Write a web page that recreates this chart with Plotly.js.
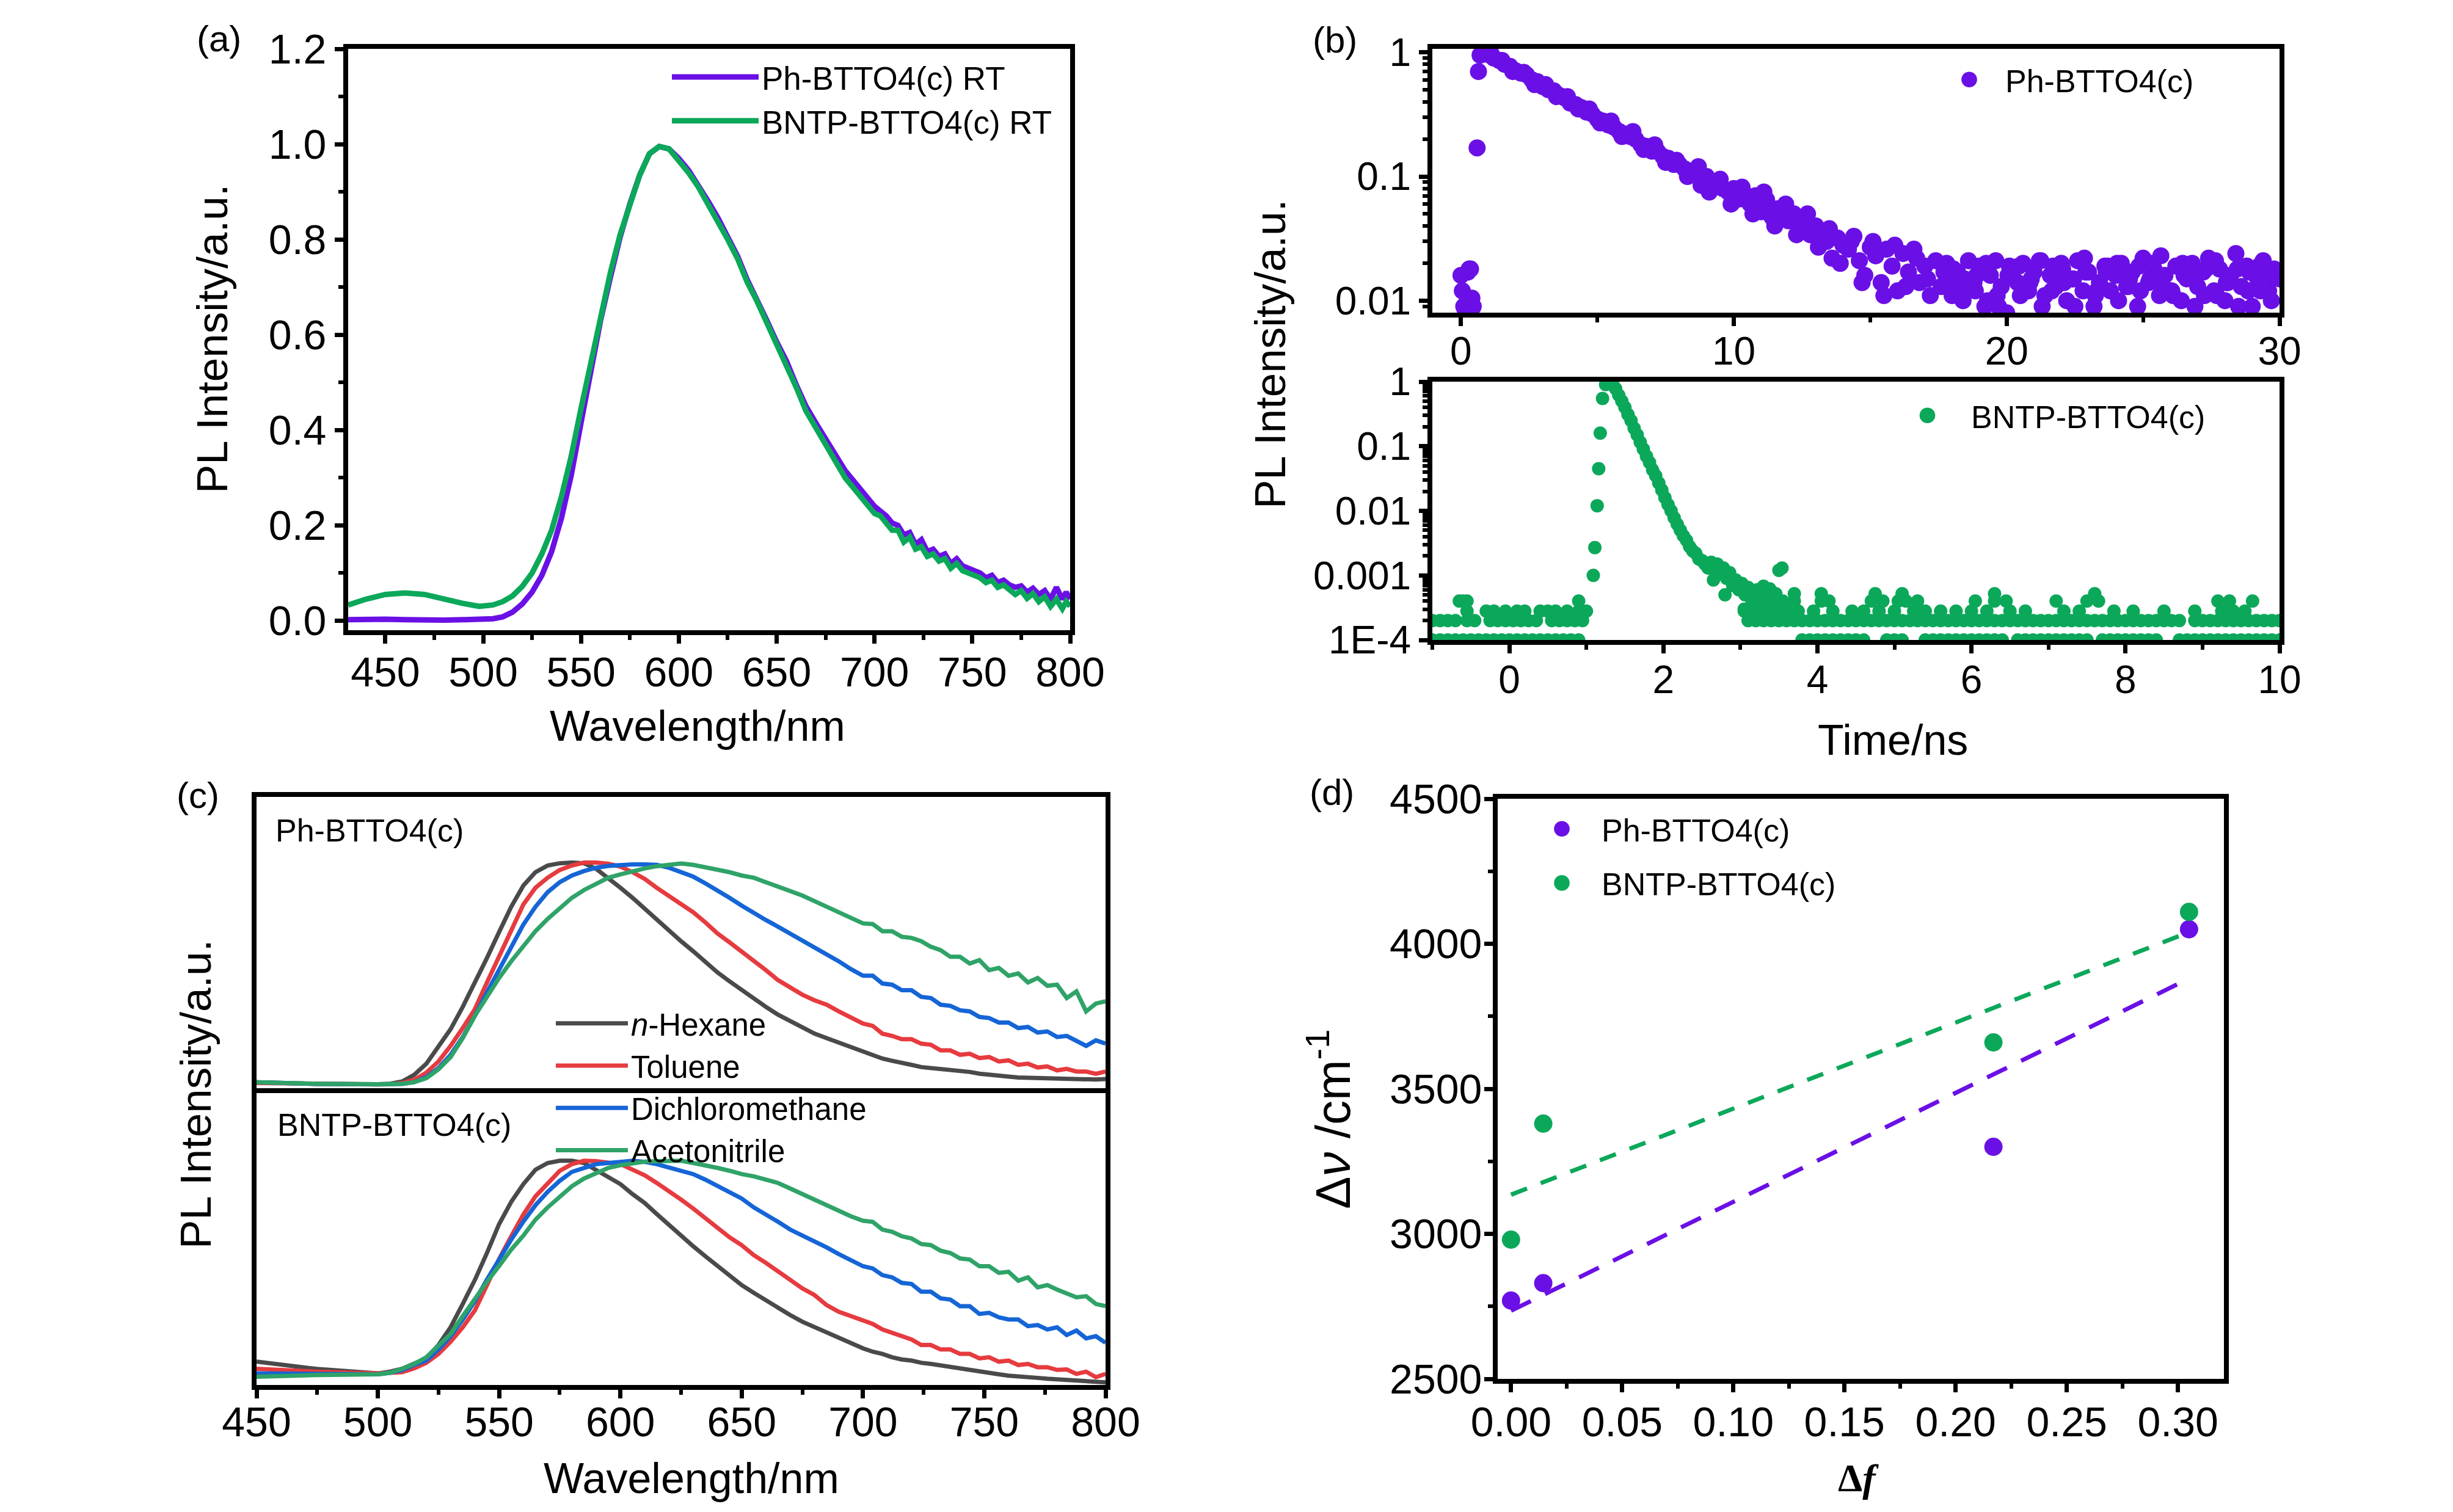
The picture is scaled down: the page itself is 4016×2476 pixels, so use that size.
<!DOCTYPE html>
<html><head><meta charset="utf-8">
<script src="https://cdn.plot.ly/plotly-3.0.1.min.js"></script>
<style>html,body{margin:0;padding:0;background:#fff}</style></head>
<body><div id="chart" style="width:4016px;height:2476px"></div>
<script>
const PURPLE='#6A10E6',GREEN='#0CA85A',HEX='#4A4A4A',TOL='#E63B3F',DCM='#1565D6',ACN='#2FA368';
const waveA=[431,440,450,460,470,480,490,498,505,510,515,520,525,530,535,540,545,550,555,560,565,570,575,580,585,590,595,600,605,610,615,620,625,630,635,640,645,650,655,660,665,670,675,680,685,690,695,700,703,706,709,712,715,718,721,724,727,730,733,736,739,742,745,748,751,754,757,760,763,766,769,772,775,778,781,784,787,790,793,796,798,800];
const phRT=[.002,.003,.003,.002,.001,.001,.002,.002,.004,.008,.018,.035,.06,.095,.145,.215,.305,.415,.525,.63,.72,.805,.875,.935,.98,.995,.99,.97,.945,.915,.88,.845,.805,.765,.715,.675,.63,.585,.545,.495,.45,.415,.38,.345,.315,.29,.265,.24,.23,.22,.205,.20,.18,.185,.16,.17,.145,.15,.135,.14,.12,.13,.115,.11,.105,.10,.09,.095,.08,.085,.075,.07,.073,.06,.068,.055,.063,.045,.07,.045,.06,.045];
const bntpRT=[.033,.045,.055,.058,.055,.045,.036,.03,.033,.04,.052,.072,.10,.14,.19,.26,.345,.445,.54,.64,.73,.81,.875,.935,.98,.995,.99,.965,.94,.91,.875,.84,.80,.76,.71,.67,.625,.58,.54,.49,.44,.405,.365,.33,.30,.275,.25,.225,.22,.205,.19,.19,.165,.175,.15,.155,.135,.14,.125,.13,.11,.12,.105,.10,.095,.09,.08,.085,.07,.075,.065,.055,.063,.047,.057,.04,.05,.03,.045,.025,.04,.03];
const decayPhT=[0,0.05,0.1,0.15,0.2,0.25,0.3,0.35,0.4,0.45,0.59,0.64,0.7,0.8,0.9,1.0,1.2,1.4,1.6,1.8,2.0,2.2,2.4,2.6,2.8,3.0,3.2,3.4,3.6,3.8,4.0,4.2,4.4,4.6,4.8,5.0,5.2,5.4,5.6,5.8,6.0,6.2,6.4,6.6,6.8,7.0,7.2,7.4,7.6,7.8,8.0,8.2,8.4,8.6,8.8,9.0,9.2,9.4,9.6,9.8,10.0,10.2,10.4,10.6,10.8,11.0,11.2,11.4,11.6,11.8,12.0,12.2,12.4,12.6,12.8,13.0,13.2,13.4,13.6,13.8,14.0,14.2,14.4,14.6,14.8,15.0,15.2,15.4,15.6,15.8,16.0,16.2,16.4,16.6,16.8,17.0,17.2,17.4];
const decayPhY=[.016,.012,.009,.0085,.0095,.017,.018,.018,.0105,.009,.17,.70,.95,1.0,1.02,.96,.90,.86,.80,.77,.71,.68,.66,.60,.58,.53,.50,.49,.45,.43,.39,.38,.36,.33,.32,.29,.28,.26,.25,.23,.22,.21,.20,.18,.175,.16,.16,.145,.14,.125,.125,.115,.105,.11,.085,.10,.085,.09,.08,.075,.08,.066,.072,.06,.07,.052,.065,.047,.055,.05,.044,.05,.04,.043,.034,.04,.034,.03,.022,.032,.028,.026,.033,.021,.016,.027,.023,.014,.026,.019,.012,.024,.017,.026,.014,.019,.011,.021];
const bandPhT=[1.1,1.5,1.9,2.3,2.7,3.1,3.5,3.9,4.3,4.7,5.1,5.5,5.9,6.3,6.7,7.1,7.5,7.9,8.3,8.7,9.1,9.5,9.9,10.3,10.7,11.1,11.5,11.9,12.3,12.7,13.1,13.5,13.9,14.3,14.7,15.1,15.5,15.9,16.3,16.7,17.1];
const bandPhY=[.98,.86,.70,.69,.55,.55,.44,.44,.35,.35,.27,.28,.21,.23,.165,.18,.13,.135,.10,.12,.075,.095,.06,.082,.05,.075,.04,.06,.034,.05,.027,.038,.02,.03,.014,.03,.011,.028,.013,.022,.015];
const tailPhT=[17.6,17.8,18.0,18.2,18.4,18.6,18.8,19.0,19.2,19.4,19.6,19.8,20.0,20.2,20.4,20.6,20.8,21.0,21.2,21.4,21.6,21.8,22.0,22.2,22.4,22.6,22.8,23.0,23.2,23.4,23.6,23.8,24.0,24.2,24.4,24.6,24.8,25.0,25.2,25.4,25.6,25.8,26.0,26.2,26.4,26.6,26.8,27.0,27.2,27.4,27.6,27.8,28.0,28.2,28.4,28.6,28.8,29.0,29.2,29.4,29.6,29.8,30.0,17.7,18.1,18.5,18.9,19.3,19.7,20.1,20.5,20.9,21.3,21.7,22.1,22.5,22.9,23.3,23.7,24.1,24.5,24.9,25.3,25.7,26.1,26.5,26.9,27.3,27.7,28.1,28.5,28.9,29.3,29.7,18.05,18.45,18.85,19.25,19.65,20.05,20.45,20.85,21.25,21.65,22.05,22.45,22.85,23.25,23.65,24.05,24.45,24.85,25.25,25.65,26.05,26.45,26.85,27.25,27.65,28.05,28.45,28.85,29.25,29.65];
const tailPhY=[.013,.020,.011,.017,.010,.021,.014,.019,.009,.016,.021,.013,.008,.018,.014,.020,.012,.017,.021,.011,.016,.013,.020,.010,.015,.021,.012,.017,.009,.014,.019,.012,.016,.020,.013,.017,.009,.022,.014,.018,.011,.016,.012,.019,.010,.015,.020,.013,.017,.022,.012,.018,.010,.016,.024,.013,.019,.009,.015,.021,.012,.018,.015,.017,.014,.012,.016,.010,.009,.019,.011,.015,.009,.019,.014,.009,.017,.012,.019,.010,.015,.012,.020,.013,.011,.016,.009,.018,.011,.014,.009,.017,.012,.010,.018,.015,.012,.02,.011,.016,.019,.014,.021,.012,.018,.015,.022,.011,.017,.02,.013,.019,.015,.023,.012,.02,.016,.011,.021,.014,.018,.012,.019,.016];
const decayBnT=[1.09,1.11,1.14,1.16,1.18,1.21,1.25,1.3,1.34,1.38,1.42,1.46,1.5,1.54,1.58,1.62,1.66,1.7,1.74,1.78,1.82,1.86,1.9,1.94,1.98,2.02,2.06,2.1,2.14,2.18,2.22,2.26,2.3,2.34,2.38,2.42,2.46,2.5,2.54,2.58,2.62,2.66,2.7,2.74,2.78,2.82,2.86,2.9,2.94,2.98,3.02,3.06,3.1,3.14,3.18,3.22,3.26,3.3,3.34,3.38,3.42,3.46,3.5,3.54,2.65,2.8,3.05,3.2,3.28,3.35];
const decayBnY=[.001,.0027,.012,.045,.16,.55,.9,1,.95,.78,.62,.5,.4,.31,.25,.19,.15,.115,.09,.07,.056,.043,.035,.027,.021,.016,.0125,.01,.0078,.0062,.005,.0041,.0035,.0028,.0024,.0022,.0018,.0017,.0015,.0013,.0016,.0012,.0015,.0011,.0013,.0009,.0011,.0007,.00085,.0006,.00075,.0005,.00065,.00048,.00058,.0006,.00045,.00068,.0005,.00062,.00042,.00052,.0012,.0013,.00085,.0005,.0003,.0003,.00022,.00035];
const level1X=[-1,-.9,-.8,-.7,-.6,-.5,-.4,-.3,-.2,-.1,0,.1,.2,.3,.4,.5,.6,.7,.8,.9,3.8,3.9,4,4.1,4.2,4.3,4.4,4.5,4.6,4.9,5,5.1,5.4,5.5,5.6,5.7,5.8,5.9,6,6.1,6.2,6.3,6.4,6.6,6.7,6.8,6.9,7,7.1,7.2,7.3,7.4,7.5,7.7,7.8,7.9,8,8.1,8.2,8.3,8.4,8.7,8.8,8.9,9,9.1,9.2,9.3,9.4,9.5,9.6,9.7,9.8,9.9,10];
const level2X=[-1,-.9,-.8,-.7,-.55,-.45,-.25,-.15,-.05,.05,.15,.25,.35,.55,.65,.75,.85,.95,3.1,3.2,3.3,3.4,3.5,3.6,3.7,3.8,3.9,4,4.1,4.2,4.3,4.4,4.5,4.6,4.7,4.8,4.9,5,5.1,5.2,5.3,5.4,5.5,5.6,5.7,5.8,5.9,6,6.1,6.2,6.3,6.4,6.5,6.6,6.7,6.8,6.9,7,7.1,7.2,7.3,7.4,7.5,7.6,7.7,7.8,7.9,8,8.1,8.2,8.3,8.4,8.5,8.6,8.7,8.9,9,9.1,9.2,9.3,9.4,9.5,9.6,9.7,9.8,9.9,10];
const level3X=[-.55,-.3,-.2,-.05,.1,.2,.4,.5,.6,.75,.9,1,3.05,3.15,3.25,3.35,3.45,3.55,3.6,3.75,3.95,4.2,4.45,4.6,4.8,5,5.25,5.4,5.6,5.8,6,6.2,6.5,6.7,7.2,7.4,7.85,8.1,8.5,8.9,9.25,9.4,9.55];
const level4X=[-.65,-.6,-.55,.9,3.15,3.25,3.35,3.45,3.55,3.7,4.05,4.15,4.7,4.85,5.05,5.15,5.3,6.05,6.3,6.45,7.1,7.5,7.65,9.2,9.35,9.65];
const level5X=[3.2,3.3,3.45,3.7,4.05,4.75,5.1,6.3,7.6];
const levels=[1e-4,2e-4,2.8e-4,4e-4,5.2e-4];
const waveC=[450,475,500,505,510,515,520,525,530,535,540,545,550,555,560,565,570,575,580,585,590,595,600,605,610,615,620,625,630,635,640,645,650,655,660,665,670,675,680,685,690,695,700,704,708,712,716,720,724,728,732,736,740,744,748,752,756,760,764,768,772,776,780,784,788,792,796,800];
const hexTop=[.012,.004,.003,.005,.015,.045,.095,.17,.25,.35,.456,.57,.686,.80,.895,.955,.985,.995,.998,.995,.97,.93,.885,.84,.79,.74,.69,.645,.60,.55,.505,.465,.425,.39,.35,.315,.285,.255,.23,.21,.19,.165,.145,.13,.118,.108,.097,.09,.08,.076,.072,.066,.062,.058,.05,.047,.04,.037,.033,.032,.027,.028,.025,.024,.027,.022,.024,.026];
const tolTop=[.008,.003,.002,.003,.008,.022,.055,.105,.175,.255,.34,.46,.58,.70,.81,.885,.93,.965,.985,.998,.998,.993,.98,.955,.925,.885,.85,.81,.775,.73,.68,.64,.60,.555,.515,.47,.435,.405,.38,.36,.33,.30,.275,.265,.23,.22,.205,.205,.185,.18,.155,.155,.135,.14,.12,.125,.105,.11,.09,.095,.078,.083,.065,.072,.06,.06,.05,.06];
const dcmTop=[.012,.004,.002,.002,.004,.012,.035,.075,.135,.215,.31,.415,.52,.62,.72,.80,.865,.91,.94,.96,.975,.983,.988,.99,.99,.988,.975,.955,.935,.905,.875,.84,.805,.77,.74,.71,.68,.645,.62,.59,.555,.52,.49,.49,.455,.45,.425,.425,.395,.39,.36,.355,.335,.33,.305,.30,.28,.28,.255,.26,.235,.24,.215,.22,.195,.175,.20,.185];
const acnTop=[.012,.005,.003,.003,.005,.012,.03,.07,.125,.21,.31,.395,.48,.555,.625,.69,.745,.795,.84,.875,.905,.93,.945,.96,.972,.982,.99,.994,.988,.978,.968,.955,.94,.93,.91,.89,.872,.85,.825,.80,.775,.75,.725,.722,.69,.69,.665,.66,.645,.62,.605,.575,.575,.545,.56,.515,.525,.49,.50,.46,.48,.445,.45,.39,.42,.33,.365,.375];
const hexBot=[.095,.062,.042,.05,.063,.085,.11,.17,.25,.355,.463,.585,.715,.815,.895,.96,.99,1,1,.99,.96,.925,.895,.85,.81,.76,.71,.66,.615,.57,.525,.48,.44,.405,.37,.335,.305,.275,.25,.23,.205,.18,.155,.14,.13,.115,.105,.10,.09,.085,.078,.07,.062,.056,.05,.045,.038,.032,.03,.024,.022,.018,.015,.012,.01,.006,.004,.002];
const tolBot=[.063,.05,.042,.045,.048,.065,.09,.13,.185,.25,.326,.44,.558,.66,.758,.84,.90,.955,.985,1,.998,.993,.985,.96,.935,.90,.865,.825,.785,.74,.695,.655,.62,.575,.54,.50,.46,.425,.395,.35,.32,.30,.28,.265,.24,.225,.205,.195,.17,.17,.15,.15,.13,.13,.11,.115,.095,.10,.08,.085,.07,.07,.058,.06,.04,.05,.025,.04];
const dcmBot=[.042,.038,.038,.045,.057,.08,.10,.15,.21,.285,.368,.465,.558,.645,.726,.80,.86,.91,.95,.97,.985,.99,.995,1,.995,.985,.97,.955,.94,.915,.885,.86,.83,.79,.76,.725,.69,.665,.64,.61,.58,.555,.525,.515,.485,.475,.45,.445,.41,.41,.38,.375,.345,.345,.31,.315,.295,.285,.285,.255,.26,.24,.25,.215,.235,.20,.21,.18];
const acnBot=[.027,.035,.038,.045,.063,.085,.115,.165,.22,.30,.38,.455,.526,.60,.663,.735,.79,.84,.885,.92,.945,.968,.98,.99,.996,.998,1,1,.99,.98,.968,.955,.94,.93,.915,.90,.875,.85,.825,.80,.77,.75,.73,.725,.69,.68,.66,.65,.625,.62,.595,.585,.56,.555,.525,.525,.495,.50,.46,.475,.43,.44,.42,.40,.385,.39,.355,.345];
const deltaF=[0,.0145,.217,.305];
const stokesPh=[2770,2830,3300,4050];
const stokesBn=[2980,3380,3660,4110];
const fitX=[0,.305];
const fitPh=[2735,3880];
const fitBn=[3135,4040];

const W=4016,H=2476;
const fx=(l,r)=>[l/W,r/W], fy=(t,b)=>[1-b/H,1-t/H];
const F='"Liberation Sans",Arial,sans-serif',C='#000';
const LW=8;
const ax=(o)=>Object.assign({showline:true,mirror:true,linewidth:LW,linecolor:C,showgrid:false,zeroline:false,ticks:'outside',ticklen:14,tickwidth:7,tickcolor:C,tickfont:{family:F,size:68,color:C},automargin:false},o);
const minor=(d)=>({ticks:'outside',ticklen:8,tickwidth:6,tickcolor:C,dtick:d,showgrid:false});
const line=(x,y,name,color,xa,ya,leg,w)=>({type:'scatter',mode:'lines',x,y,name,xaxis:xa,yaxis:ya,line:{color,width:w||7},showlegend:!!leg,legend:leg||undefined,hoverinfo:'skip'});
const pts=(x,y,name,color,size,xa,ya,leg)=>({type:'scatter',mode:'markers',x,y,name,legendgroup:name,xaxis:xa,yaxis:ya,marker:{color,size},showlegend:!!leg,legend:leg||undefined,hoverinfo:'skip'});
const bnX=decayBnT.concat(level1X,level2X,level3X,level4X,level5X);
const bnY=decayBnY.concat(level1X.map(()=>levels[0]),level2X.map(()=>levels[1]),level3X.map(()=>levels[2]),level4X.map(()=>levels[3]),level5X.map(()=>levels[4]));
const traces=[
 line(waveA,phRT,'Ph-BTTO4(c) RT',PURPLE,'x','y','legend',9),
 line(waveA,bntpRT,'BNTP-BTTO4(c) RT',GREEN,'x','y','legend',9),
 pts(decayPhT.concat(bandPhT,tailPhT),decayPhY.concat(bandPhY,tailPhY),'Ph-BTTO4(c)',PURPLE,28,'x2','y2','legend2'),
 pts(bnX,bnY,'BNTP-BTTO4(c)',GREEN,22,'x3','y3','legend3'),
 line(waveC,hexTop,'<i>n</i>-Hexane',HEX,'x4','y4','legend4'),
 line(waveC,tolTop,'Toluene',TOL,'x4','y4','legend4'),
 line(waveC,dcmTop,'Dichloromethane',DCM,'x4','y4','legend4'),
 line(waveC,acnTop,'Acetonitrile',ACN,'x4','y4','legend4'),
 line(waveC,hexBot,'n-Hexane',HEX,'x5','y5'),
 line(waveC,tolBot,'Toluene',TOL,'x5','y5'),
 line(waveC,dcmBot,'Dichloromethane',DCM,'x5','y5'),
 line(waveC,acnBot,'Acetonitrile',ACN,'x5','y5'),
 {type:'scatter',mode:'lines',x:fitX,y:fitPh,xaxis:'x6',yaxis:'y6',line:{color:PURPLE,width:7,dash:'36px,26px'},showlegend:false,hoverinfo:'skip'},
 {type:'scatter',mode:'lines',x:fitX,y:fitBn,xaxis:'x6',yaxis:'y6',line:{color:GREEN,width:7,dash:'28px,24px'},showlegend:false,hoverinfo:'skip'},
 pts(deltaF,stokesPh,'Ph-BTTO4(c)',PURPLE,30,'x6','y6','legend5'),
 pts(deltaF,stokesBn,'BNTP-BTTO4(c)',GREEN,30,'x6','y6','legend5')
];
const leg=(x,y,size,gap,rowGap)=>({x:x/W,y:1-y/H,xanchor:'left',yanchor:'top',bgcolor:'rgba(0,0,0,0)',borderwidth:0,font:{family:F,size,color:C},itemwidth:gap,itemclick:false,itemdoubleclick:false,tracegroupgap:rowGap||0});
const note=(text,x,y,size,extra)=>Object.assign({text,x:x/W,y:1-y/H,xref:'paper',yref:'paper',showarrow:false,xanchor:'center',yanchor:'middle',font:{family:F,size,color:C}},extra||{});
const tf64={family:F,size:64,color:C};
const layout={
 width:W,height:H,paper_bgcolor:'#fff',plot_bgcolor:'#fff',margin:{l:0,r:0,t:0,b:0,pad:0},showlegend:true,
 xaxis:ax({domain:fx(570,1752),range:[431,800],anchor:'y',tickvals:[450,500,550,600,650,700,750,800],minor:minor(25),ticklabelstandoff:-12}),
 yaxis:ax({domain:fy(80,1032),range:[-.02,1.2],anchor:'x',dtick:.2,tickformat:'.1f',minor:minor(.1)}),
 xaxis2:ax({domain:fx(2345,3732),range:[-1.05,30],anchor:'y2',tickvals:[0,10,20,30],minor:minor(5),tickfont:tf64,ticklabelstandoff:-14}),
 yaxis2:ax({domain:fy(80,512),type:'log',range:[-2.096,.028],anchor:'x2',tickmode:'array',tickvals:[1,.1,.01],ticktext:['1','0.1','0.01'],tickfont:tf64,minor:Object.assign(minor('D1'),{tickmode:'linear'})}),
 xaxis3:ax({domain:fx(2345,3732),range:[-1,10],anchor:'y3',dtick:2,minor:minor(1),tickfont:tf64,ticklabelstandoff:-12}),
 yaxis3:ax({domain:fy(625,1048),type:'log',range:[-4,0],anchor:'x3',tickmode:'array',tickvals:[1,.1,.01,.001,.0001],ticktext:['1','0.1','0.01','0.001','1E-4'],tickfont:tf64,minor:Object.assign(minor('D1'),{tickmode:'linear'})}),
 xaxis4:ax({domain:fx(420,1810),range:[450,800],anchor:'y4',ticks:'',showticklabels:false}),
 yaxis4:ax({domain:fy(1305,1782),range:[-.015,1.293],anchor:'x4',ticks:'',showticklabels:false}),
 xaxis5:ax({domain:fx(420,1810),range:[450,800],anchor:'y5',mirror:false,tickvals:[450,500,550,600,650,700,750,800],minor:minor(25),ticklabelstandoff:-20}),
 yaxis5:ax({domain:fy(1790,2268),range:[-.01,1.305],anchor:'x5',ticks:'',showticklabels:false}),
 xaxis6:ax({domain:fx(2452,3641),range:[-.006,.3207],anchor:'y6',tickvals:[0,.05,.1,.15,.2,.25,.3],tickformat:'.2f',minor:minor(.025),ticklabelstandoff:-10}),
 yaxis6:ax({domain:fy(1308,2258),range:[2500,4500],anchor:'x6',dtick:500,minor:minor(250),ticklabelstandoff:-10}),
 legend:leg(1095,85,53,142),
 legend2:leg(3165,90,52,108),
 legend3:leg(3084,640,52,133),
 legend4:leg(905,1636,51,118),
 legend5:leg(2492,1317,52,120,18),
 annotations:[
  note('(a)',358,63,60),note('(b)',2185,65,60),note('(c)',324,1302,60),note('(d)',2180,1297,60),
  note('PL Intensity/a.u.',347,555,71,{textangle:-90}),
  note('PL Intensity/a.u.',2080,580,71,{textangle:-90}),
  note('PL Intensity/a.u.',320,1792,71,{textangle:-90}),
  note('\u0394<i>\u03bd</i> /cm<sup>-1</sup>',2176,1833,80,{textangle:-90}),
  note('<b>\u0394<i>f</i></b>',3042,2420,64,{font:{family:'"Liberation Serif",serif',size:64,color:C}}),
  note('Wavelength/nm',1142,1189,70),
  note('Time/ns',3099,1212,70),
  note('Wavelength/nm',1132,2421,70),
  note('Ph-BTTO4(c)',605,1360,52),note('BNTP-BTTO4(c)',645,1842,52)
 ]
};
Plotly.newPlot('chart',traces,layout,{staticPlot:true,displayModeBar:false}).then(()=>{
 document.querySelectorAll('.legendpoints path.scatterpts').forEach(p=>{
  const t=p.getAttribute('transform')||'';
  p.setAttribute('transform',t+' scale(1.6)');
 });
});
</script></body></html>
